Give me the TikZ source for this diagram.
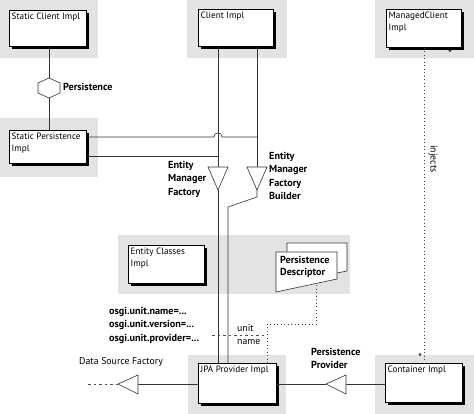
\documentclass[tikz,border=0pt]{standalone}
\usepackage{fontspec}
\setmainfont{PT Sans}
\usetikzlibrary{shadows}
\begin{document}
\begin{tikzpicture}[x=1pt,y=-1pt,
  bg/.style={fill=black!11,draw=none},
  box/.style={draw,fill=white,line width=0.6pt,anchor=north west,inner sep=0pt,
    drop shadow={shadow xshift=3pt,shadow yshift=-3pt,fill=black,opacity=1}},
  lbl/.style={anchor=north west,inner sep=2.5pt,align=left,font=\fontsize{9.2}{12}\selectfont},
  btxt/.style={anchor=west,inner sep=0pt,align=left,font=\fontsize{10.2}{13.5}\selectfont\bfseries},
  rtxt/.style={anchor=west,inner sep=0pt,font=\fontsize{9.8}{12}\selectfont},
  ln/.style={line width=0.6pt,draw=black!80},
  head/.style={line width=0.6pt,draw=black!80,fill=white},
  dotl/.style={line width=0.9pt,draw=black!75,dash pattern=on 0.9pt off 2.6pt},
  dashl/.style={line width=0.6pt,draw=black!70,dash pattern=on 2.5pt off 3pt}]
\useasboundingbox (0,0) rectangle (474,414);
% grey backgrounds
\fill[bg] (0,0) rectangle (98,58);
\fill[bg] (187,0) rectangle (287,58);
\fill[bg] (375,0) rectangle (474,58);
\fill[bg] (0,118) rectangle (98,177);
\fill[bg] (118,235) rectangle (350,294);
\fill[bg] (188,355) rectangle (286,414);
\fill[bg] (375,355) rectangle (474,414);
% boxes
\node[box,minimum width=77pt,minimum height=36pt,label={[lbl]north west:Static Client Impl}] (sc) at (9,10) {};
\node[box,minimum width=75pt,minimum height=37pt,label={[lbl]north west:Client Impl}] (ci) at (198,9) {};
\node[box,minimum width=75pt,minimum height=38pt,label={[lbl]north west:ManagedClient\\Impl}] (mc) at (386,9) {};
\node[box,minimum width=77pt,minimum height=33pt,label={[lbl]north west:Static Persistence\\Impl}] (sp) at (9,130) {};
\node[box,minimum width=76pt,minimum height=38pt,label={[lbl]north west:Entity Classes\\Impl}] (ec) at (128,245) {};
\node[box,minimum width=78pt,minimum height=40pt,label={[lbl]north west:JPA Provider Impl}] (jpa) at (198,363) {};
\node[box,minimum width=77pt,minimum height=39pt,label={[lbl]north west:Container Impl}] (cont) at (385,363) {};
% hexagon (Persistence)
\coordinate (hx) at (49,88);
\draw[head] (49,78) -- (60,83) -- (60,93) -- (49,98) -- (38,93) -- (38,83) -- cycle;
\coordinate (hxt) at (49,78);
\coordinate (hxb) at (49,98);
\draw[ln] (hxt |- sc.south) -- (hxt);
\draw[ln] (hxb) -- (hxb |- sp.north);
\node[btxt] (persl) at (63,87) {Persistence};
% lines from static persistence
\coordinate (hopa) at (214,137);
\coordinate (hopb) at (222,137);
\coordinate (rv) at (257,137);
\draw[ln] (sp.east |- hopa) -- (hopa) .. controls (214,131.5) and (222,131.5) .. (hopb) -- (rv);
\coordinate (lv) at (218,156);
\draw[ln] (sp.east |- lv) -- (lv);
% left vertical: Entity Manager Factory
\coordinate (emft) at (218,167);
\coordinate (emfb) at (218,190);
\draw[ln] (emft |- ci.south) -- (emft);
\draw[head] (208,167) -- (228,167) -- (emfb) -- cycle;
\draw[ln] (emfb) -- (emfb |- jpa.north);
\node[btxt] (emfl) at (168,179) {Entity\\Manager\\Factory};
% right vertical: Entity Manager Factory Builder
\coordinate (emfbt) at (257,167);
\coordinate (emfbb) at (257,190);
\draw[ln] (emfbt |- ci.south) -- (emfbt);
\draw[head] (247,167) -- (267,167) -- (emfbb) -- cycle;
\coordinate (k1) at (257,197);
\coordinate (k2) at (228,207);
\draw[ln] (emfbb) -- (k1) -- (k2) -- (k2 |- jpa.north);
\node[btxt] (emfbl) at (269,176) {Entity\\Manager\\Factory\\Builder};
% injects
\coordinate (inj) at (424,200);
\draw[dotl] (inj |- mc.south) -- (inj |- cont.north);
\node[font=\fontsize{11}{11}\selectfont,inner sep=0pt] (st1) at (450,54) {*};
\node[font=\fontsize{11}{11}\selectfont,inner sep=0pt] (st2) at (420,357.5) {*};
\node[rtxt,anchor=center,rotate=-90] (injl) at (433,159) {injects};
% persistence descriptor
\draw[head] (287,243) -- (347,243) -- (347,271) -- (287,283) -- cycle;
\draw[head] (276,252) -- (337,252) -- (337,279) -- (276,292) -- cycle;
\node[btxt,font=\fontsize{10.2}{12.5}\selectfont\bfseries] (pdl) at (280,267) {Persistence\\Descriptor};
\coordinate (d1) at (316,285);
\coordinate (d2) at (316,324);
\coordinate (d3) at (267,324);
\draw[dotl] (d1) -- (d2) -- (d3) -- (d3 |- jpa.north);
% unit name
\coordinate (dsa) at (212,335);
\coordinate (dsb) at (267,335);
\draw[dashl] (dsa) -- (dsb);
\node[rtxt] (unitl) at (237,328) {unit};
\node[rtxt] (namel) at (237,342) {name};
\node[btxt] (osgi) at (109,325) {osgi.unit.name=...\\osgi.unit.version=...\\osgi.unit.provider=...};
% data source factory
\coordinate (dsfa) at (118,384);
\coordinate (dsfb) at (138,384);
\coordinate (dsfe) at (88,384);
\draw[ln] (dsfb) -- (dsfb -| jpa.west);
\draw[head] (dsfa) -- (138,375) -- (138,394) -- cycle;
\draw[dashl] (dsfe) -- (dsfa);
\node[rtxt] (dsfl) at (79,362) {Data Source Factory};
% persistence provider
\coordinate (ppa) at (326,384);
\coordinate (ppb) at (346,384);
\draw[ln] (ppa -| jpa.east) -- (ppa);
\draw[ln] (ppb) -- (ppb -| cont.west);
\draw[head] (ppa) -- (346,375) -- (346,394) -- cycle;
\node[btxt] (ppl) at (311,358.5) {Persistence\\Provider};
\end{tikzpicture}
\end{document}
